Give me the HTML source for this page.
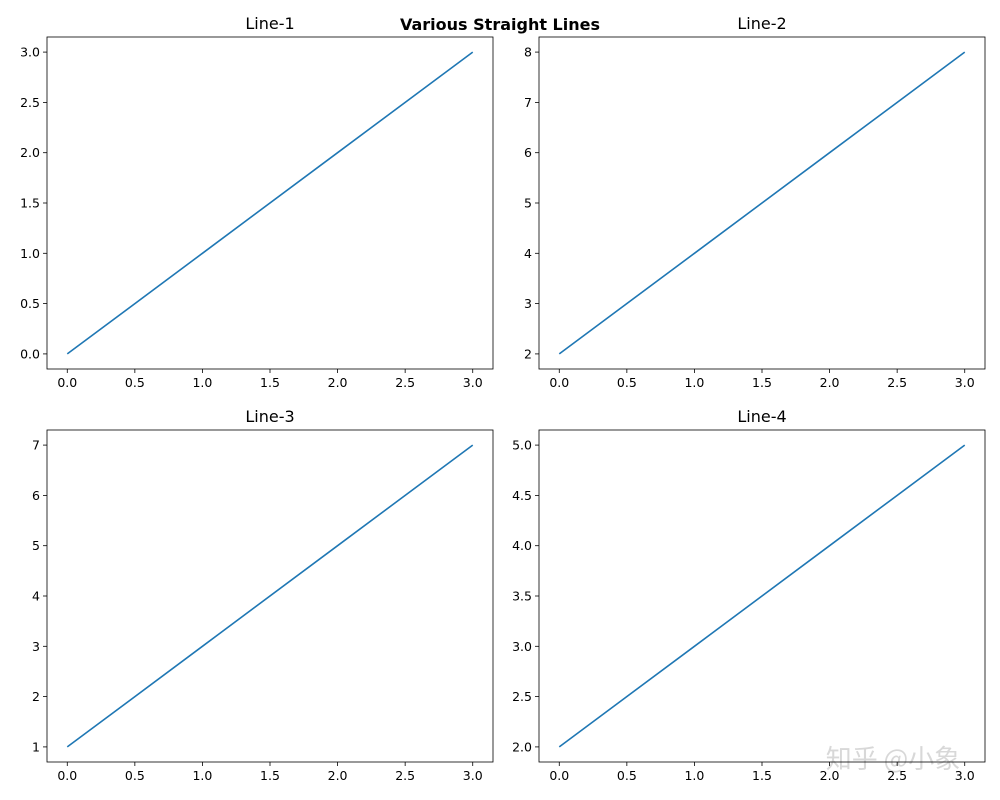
<!DOCTYPE html>
<html><head><meta charset="utf-8"><style>
html,body{margin:0;padding:0;background:#fff;}
svg{display:block;font-family:"DejaVu Sans","Liberation Sans","Noto Sans CJK SC",sans-serif;}
</style></head><body>
<svg id="fig" width="1000" height="800" xmlns="http://www.w3.org/2000/svg">
<rect width="1000" height="800" fill="#fff"/>
<text x="500" y="30" text-anchor="middle" font-size="16" font-weight="bold">Various Straight Lines</text>
<text x="893" y="768" text-anchor="middle" font-size="26" fill="#d8d8d8" font-family="'Noto Sans CJK SC',sans-serif">知乎 @小象</text>
</svg>
<script>
const xValues = [0, 1, 2, 3];
const line1Values = [0, 1, 2, 3];
const line2Values = [2, 4, 6, 8];
const line3Values = [1, 3, 5, 7];
const line4Values = [2, 3, 4, 5];
const xTicks = [0, 0.5, 1, 1.5, 2, 2.5, 3];
const line1Ticks = [0, 0.5, 1, 1.5, 2, 2.5, 3];
const line2Ticks = [2, 3, 4, 5, 6, 7, 8];
const line3Ticks = [1, 2, 3, 4, 5, 6, 7];
const line4Ticks = [2, 2.5, 3, 3.5, 4, 4.5, 5];
const titles = ["Line-1", "Line-2", "Line-3", "Line-4"];

const NS = "http://www.w3.org/2000/svg";
const svg = document.getElementById('fig');
function mk(tag, attrs, parent) {
  const e = document.createElementNS(NS, tag);
  for (const k in attrs) e.setAttribute(k, attrs[k]);
  (parent || svg).appendChild(e);
  return e;
}
const panels = [
  {x: 47, y: 37, vals: line1Values, ticks: line1Ticks, dec: 1},
  {x: 539, y: 37, vals: line2Values, ticks: line2Ticks, dec: 0},
  {x: 47, y: 430, vals: line3Values, ticks: line3Ticks, dec: 0},
  {x: 539, y: 430, vals: line4Values, ticks: line4Ticks, dec: 1}
];
const W = 446, H = 332;
panels.forEach((p, i) => {
  const g = mk('g', {});
  
  
  const xmin = Math.min(...xValues), xmax = Math.max(...xValues);
  const ymin = Math.min(...p.vals), ymax = Math.max(...p.vals);
  const xm = (xmax - xmin) * 0.05, ym = (ymax - ymin) * 0.05;
  const sx = v => p.x + (v - (xmin - xm)) / ((xmax + xm) - (xmin - xm)) * W;
  const sy = v => p.y + H - (v - (ymin - ym)) / ((ymax + ym) - (ymin - ym)) * H;
  const t = mk('text', {x: p.x + W / 2, y: p.y - 8, 'text-anchor': 'middle', 'font-size': 16}, g);
  t.textContent = titles[i];
  
  
  xTicks.forEach(v => {
    const X = sx(v);
    mk('line', {x1: X, x2: X, y1: p.y + H, y2: p.y + H + 4, stroke: '#000', 'stroke-width': 0.8}, g);
    const l = mk('text', {x: X, y: p.y + H + 18, 'text-anchor': 'middle', 'font-size': 12.5}, g);
    l.textContent = v.toFixed(1);
    
    
  });
  p.ticks.forEach(v => {
    const Y = sy(v);
    mk('line', {x1: p.x - 4, x2: p.x, y1: Y, y2: Y, stroke: '#000', 'stroke-width': 0.8}, g);
    const l = mk('text', {x: p.x - 7, y: Y + 4.5, 'text-anchor': 'end', 'font-size': 12.5}, g);
    l.textContent = v.toFixed(p.dec);
    
    
  });
  const pts = xValues.map((x, j) => sx(x) + ',' + sy(p.vals[j])).join(' ');
  const pl = mk('polyline', {points: pts, fill: 'none', stroke: '#1f77b4', 'stroke-width': 1.6}, g);
  
  
  const fr = mk('rect', {x: p.x, y: p.y, width: W, height: H, fill: 'none', stroke: '#000', 'stroke-width': 0.8}, g);
  
  
});
</script>
</body></html>
